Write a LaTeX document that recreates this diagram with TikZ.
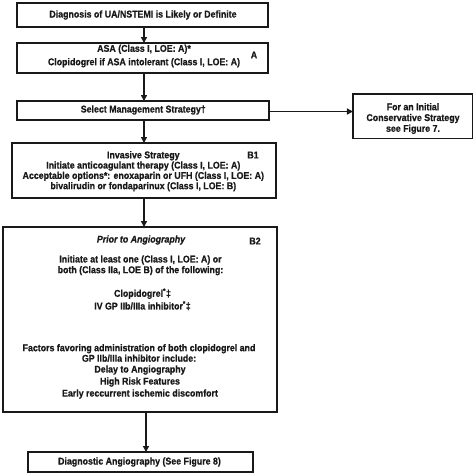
\documentclass[tikz,border=0pt]{standalone}
\usepackage{fontspec}
\setmainfont{Liberation Sans}[FakeStretch=0.9,BoldFeatures={FakeBold=0.8},BoldItalicFeatures={FakeBold=0.8}]
\usetikzlibrary{arrows.meta}
\begin{document}
\begin{tikzpicture}[x=1pt,y=-1pt,
  box/.style={draw=black!90,line width=1.6pt,inner sep=0pt,outer sep=0pt},
  txt/.style={font=\fontsize{9.8}{10.5}\selectfont\bfseries,align=center,inner sep=0pt,text=black!90},
  arr/.style={draw=black!90,line width=1.6pt,-{Triangle[width=6pt,length=6pt]}}]
\useasboundingbox (0,0) rectangle (474,475);
% boxes
\node[box,minimum width=251pt,minimum height=24pt] (dx) at (142.5,15) {};
\node[box,minimum width=251pt,minimum height=30pt] (bA) at (142.5,58) {};
\node[box,minimum width=252pt,minimum height=19pt] (sel) at (143,110.5) {};
\node[box,minimum width=119.5pt,minimum height=44.5pt] (cons) at (412.7,116.2) {};
\node[box,minimum width=264pt,minimum height=55pt] (bB1) at (144,170.5) {};
\node[box,minimum width=274pt,minimum height=185pt] (bB2) at (140,319.5) {};
\node[box,minimum width=225pt,minimum height=20pt] (fin) at (140.5,462) {};
% texts
\node[txt] (t1) at (143,15) {Diagnosis of UA/NSTEMI is Likely or Definite};
\node[txt,font=\fontsize{9.8}{13.4}\selectfont\bfseries] (tA) at (144,56) {ASA (Class I, LOE: A)*\\Clopidogrel if ASA intolerant (Class I, LOE: A)};
\node[txt] (lA) at (254,55) {A};
\node[txt] (tsel) at (143.3,110) {Select Management Strategy†};
\node[txt,font=\fontsize{9.8}{10.8}\selectfont\bfseries] (tcons) at (413,118.5) {For an Initial\\Conservative Strategy\\see Figure 7.};
\node[txt,font=\fontsize{9.8}{10.3}\selectfont\bfseries] (tB1) at (143.3,171.2) {Invasive Strategy\\Initiate anticoagulant therapy (Class I, LOE: A)\\Acceptable options*: enoxaparin or UFH (Class I, LOE: A)\\bivalirudin or fondaparinux (Class I, LOE: B)};
\node[txt] (lB1) at (253,155) {B1};
\node[txt,font=\fontsize{9.8}{10.5}\selectfont\bfseries\itshape] (tprior) at (141,240) {Prior to Angiography};
\node[txt] (lB2) at (255,241) {B2};
\node[txt,font=\fontsize{9.8}{10.7}\selectfont\bfseries] (tinit) at (140.5,265.3) {Initiate at least one (Class I, LOE: A) or\\both (Class IIa, LOE B) of the following:};
\node[txt,font=\fontsize{9.8}{12.7}\selectfont\bfseries] (tdrugs) at (142.5,299.3) {Clopidogrel\textsuperscript{*}‡\\IV GP IIb/IIIa inhibitor\textsuperscript{*}‡};
\node[txt,font=\fontsize{9.8}{10.5}\selectfont\bfseries] (tfac) at (139,353) {Factors favoring administration of both clopidogrel and\\GP IIb/IIIa inhibitor include:};
\node[txt,font=\fontsize{9.8}{12}\selectfont\bfseries] (tlist) at (140,382) {Delay to Angiography\\High Risk Features\\Early reccurrent ischemic discomfort};
\node[txt] (tfin) at (139.5,462) {Diagnostic Angiography (See Figure 8)};
% connectors
\draw[arr] ([xshift=1.5pt]dx.south) -- ([xshift=1.5pt]bA.north);
\draw[arr] ([xshift=1.5pt]bA.south) -- ([xshift=1pt]sel.north);
\draw[arr] ([xshift=1pt]sel.south) -- (bB1.north);
\draw[arr] ([yshift=-1pt]sel.east) -- ([yshift=-1pt]sel.east -| cons.west);
\draw[arr] (bB1.south) -- ([xshift=4pt]bB2.north);
\draw[arr] ([xshift=6pt]bB2.south) -- ([xshift=5.5pt]fin.north);
\end{tikzpicture}
\end{document}
